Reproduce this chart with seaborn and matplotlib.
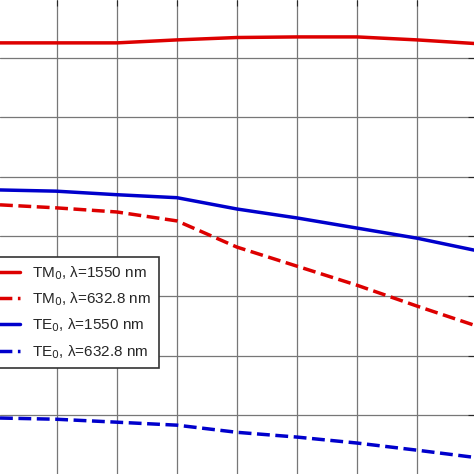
import matplotlib
matplotlib.use("Agg")
import matplotlib.pyplot as plt
import seaborn as sns
import pandas as pd

sns.set_style("white")
plt.rcParams['font.family'] = ['Liberation Sans', 'DejaVu Sans']

x = [0.05, 0.98, 2.0, 3.0, 4.0, 5.0, 6.0, 7.0, 7.95]
tm_1550 = [6.25, 6.25, 6.25, 6.30, 6.34, 6.35, 6.35, 6.30, 6.24]
tm_632 = [3.53, 3.48, 3.41, 3.26, 2.82, 2.50, 2.18, 1.83, 1.51]
te_1550 = [3.78, 3.76, 3.70, 3.65, 3.46, 3.31, 3.14, 2.97, 2.77]
te_632 = [-0.05, -0.07, -0.12, -0.17, -0.29, -0.37, -0.47, -0.59, -0.71]
labels = ['TM$_0$, \u03bb=1550 nm', 'TM$_0$, \u03bb=632.8 nm',
          'TE$_0$, \u03bb=1550 nm', 'TE$_0$, \u03bb=632.8 nm']

fig = plt.figure(figsize=(4.74, 4.74), dpi=100)
ax = fig.add_axes([0, 0, 1, 1])
series = [(tm_1550, '#dd0000', '-'), (tm_632, '#dd0000', '--'),
          (te_1550, '#0000cc', '-'), (te_632, '#0000cc', '--')]
for (y, c, ls), lab in zip(series, labels):
    df = pd.DataFrame({'x': x, 'y': y})
    sns.lineplot(data=df, x='x', y='y', ax=ax, color=c, linestyle=ls, lw=2.5, label=lab)

ax.set_xlim(0.05, 7.95)
ax.set_ylim(-0.99, 6.97)
ax.set_xticks(range(1, 8))
ax.set_yticks(range(0, 7))
ax.grid(True, color='#777777', lw=0.9)
ax.tick_params(direction='in', top=True, right=True, labelbottom=False, labelleft=False, length=4)
for s in ax.spines.values():
    s.set_visible(False)
ax.set_xlabel('')
ax.set_ylabel('')
leg = ax.legend(loc='upper right', bbox_to_anchor=(0.335, 0.458), fontsize=11,
                handlelength=3.2, fancybox=False, framealpha=1, edgecolor='#333333',
                labelspacing=0.55, borderpad=0.5, borderaxespad=0)
leg.get_frame().set_linewidth(1.2)
fig.savefig('out.png', dpi=100)
